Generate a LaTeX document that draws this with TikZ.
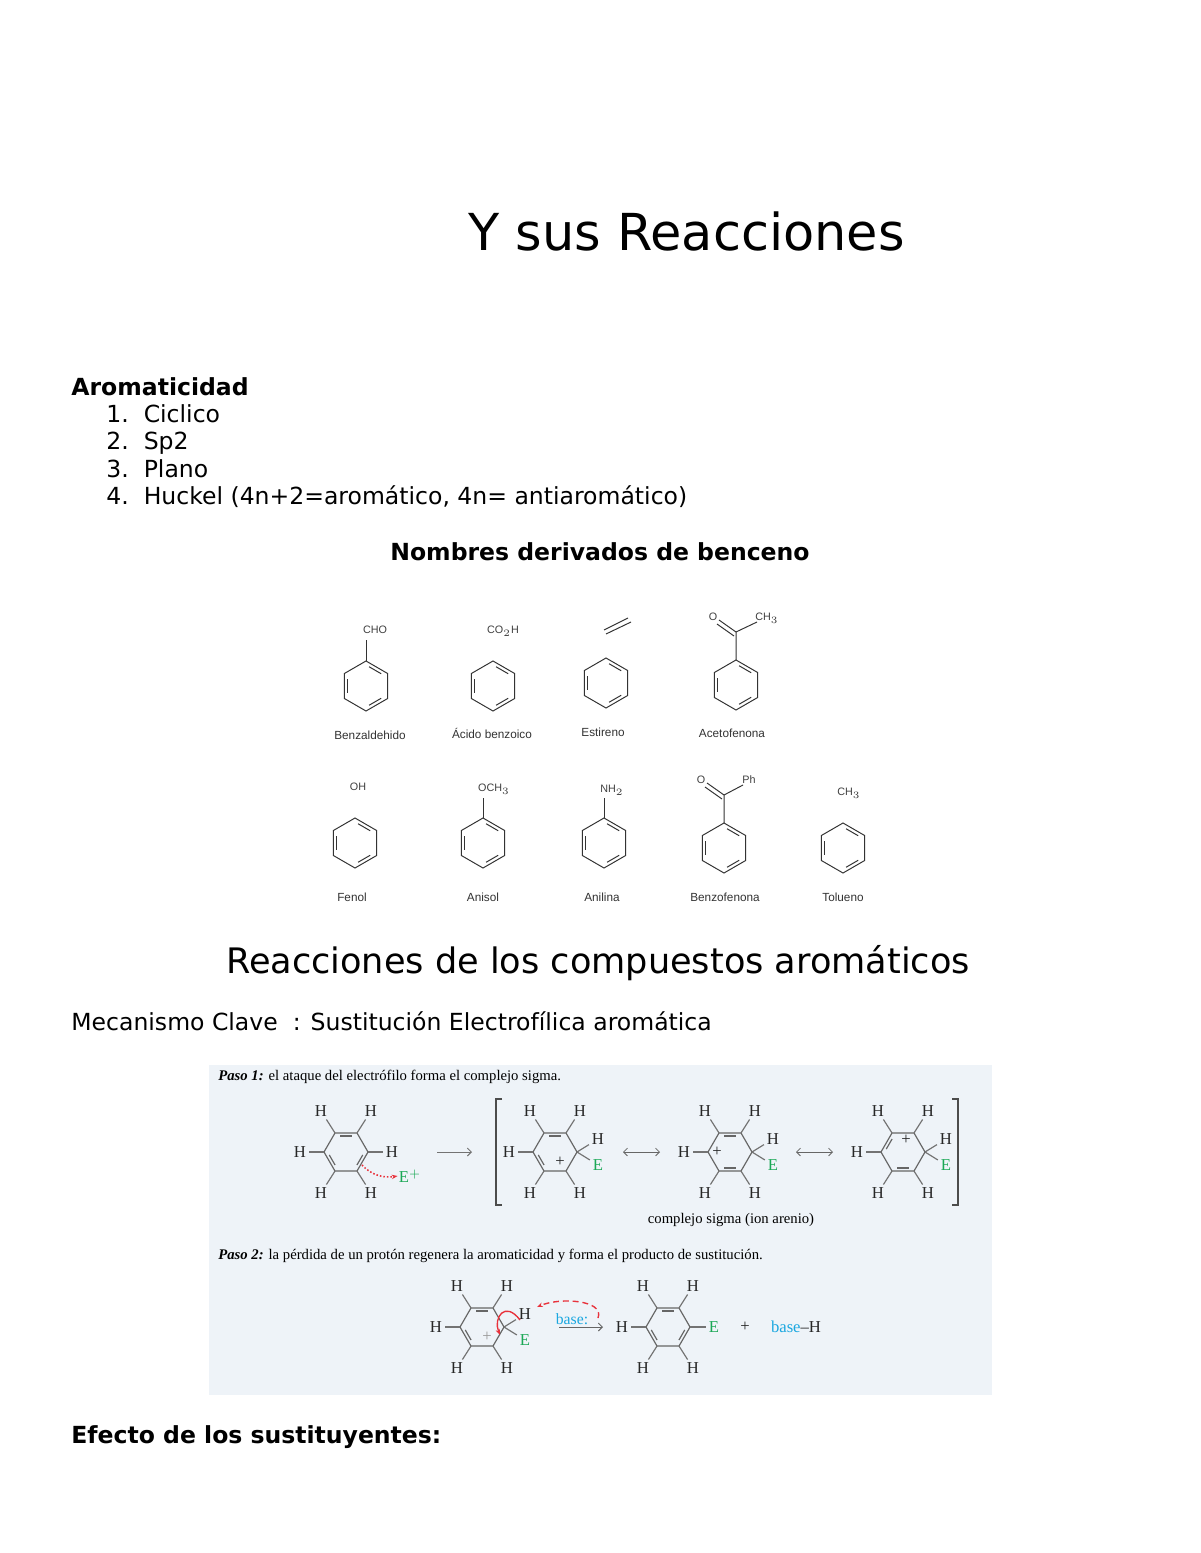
\documentclass[tikz,border=0pt]{standalone}
\usepackage{fontspec}
\setmainfont{DejaVu Sans}
\newfontfamily\tms{Liberation Serif}
\newfontfamily\ars{Liberation Sans}
\usetikzlibrary{arrows.meta}
\definecolor{bgm}{HTML}{EEF3F8}
\definecolor{egreen}{HTML}{1BA856}
\definecolor{bcyan}{HTML}{1AA7E0}
\definecolor{rred}{HTML}{E8323C}
\tikzset{
 ringline/.style={line width=0.5pt,black!80},
 mline/.style={line width=0.6pt,black!60},
 bond/.style={line width=0.6pt,black!55,shorten >=1pt},
 hl/.style={font=\tms\fontsize{8.5}{9}\selectfont,inner sep=0.5pt,text=black!85},
 el/.style={font=\tms\fontsize{8.5}{9}\selectfont,inner sep=0.5pt,text=egreen},
 lab/.style={font=\ars\fontsize{6}{7}\selectfont,text=black!80},
 sub/.style={font=\ars\fontsize{5.5}{6}\selectfont,text=black!75,inner sep=1pt},
 body/.style={font=\fontsize{12}{14}\selectfont,anchor=base west,inner sep=0},
 resarrow/.style={{Straight Barb[length=2pt]}-{Straight Barb[length=2pt]},line width=0.4pt,black!60},
}
\newcommand\hexv[3]{%
 \begin{scope}[shift={(#1,#2)}]
 \draw[ringline] (90:25)--(150:25)--(210:25)--(270:25)--(330:25)--(30:25)--cycle;
 \foreach \a in {#3} \draw[ringline] (\a+9:19.5)--(\a+51:19.5);
 \end{scope}}
\newcommand\mring[4]{%
 \begin{scope}[shift={(#1,#2)}]
 \draw[mline] (0:22)--(60:22)--(120:22)--(180:22)--(240:22)--(300:22)--cycle;
 \foreach \a in {#3} \draw[mline] (\a+10:17)--(\a+50:17);
 \node[hl] (#4a) at (-25,-41) {H}; \node[hl] (#4b) at (25,-41) {H};
 \node[hl] (#4c) at (-46,0) {H};
 \node[hl] (#4d) at (-25,41) {H}; \node[hl] (#4e) at (25,41) {H};
 \draw[bond] (240:22)--(#4a); \draw[bond] (300:22)--(#4b);
 \draw[bond] (180:22)--(#4c); \draw[bond] (120:22)--(#4d);
 \draw[bond] (60:22)--(#4e);
 \end{scope}}
\newcommand\sigright[3]{%
 \begin{scope}[shift={(#1,#2)}]
 \node[hl] (#3h) at (43,-13) {H}; \node[el] (#3x) at (43,13) {E};
 \draw[bond] (0:22)--(#3h); \draw[bond] (0:22)--(#3x);
 \end{scope}}
\begin{document}
\begin{tikzpicture}[x=0.51pt,y=-0.51pt]
\useasboundingbox (0,0) rectangle (1200,1553);
\fill[white] (0,0) rectangle (1200,1553);
% titles
\node[font=\fontsize{26}{30}\selectfont,anchor=base west,inner sep=0] (title) at (468,250) {Y sus Reacciones};
\node[body,font=\bfseries\fontsize{12}{14}\selectfont] (arom) at (71,395) {Aromaticidad};
\node[body] (i1) at (106,422) {1.\ \ Ciclico};
\node[body] (i2) at (106,449) {2.\ \ Sp2};
\node[body] (i3) at (106,477) {3.\ \ Plano};
\node[body] (i4) at (106,504) {4.\ \ Huckel (4n+2=aromático, 4n= antiaromático)};
\node[font=\bfseries\fontsize{12}{14}\selectfont,inner sep=0] (nd) at (600,552) {Nombres derivados de benceno};
% derivatives row 1
\hexv{366}{686}{30,150,270}
\draw[ringline] (366,661)--(366,640); \node[sub] (s1) at (375,630) {CHO};
\node[lab] (l1) at (370,735) {Benzaldehido};
\hexv{493}{686}{30,150,270}
\node[sub] (s2) at (503,631) {CO$_2$H};
\node[lab] (l2) at (492,733) {Ácido benzoico};
\hexv{606}{683}{30,150,270}
\draw[ringline] (604,630)--(628,618); \draw[ringline] (606,634)--(631,622);
\node[lab] (l3) at (603,732) {Estireno};
\hexv{736}{685}{30,150,270}
\draw[ringline] (736,660)--(736,632)--(757,622); \draw[ringline] (736,632)--(719,620); \draw[ringline] (734,636)--(717,624);
\node[sub] (s4a) at (713,617) {O}; \node[sub] (s4b) at (767,618) {CH$_3$};
\node[lab] (l4) at (732,733) {Acetofenona};
% row 2
\hexv{355}{843}{30,150,270}
\node[sub] (s5) at (358,787) {OH};
\node[lab] (l5) at (352,897) {Fenol};
\hexv{483}{843}{30,150,270}
\draw[ringline] (483,818)--(483,798); \node[sub] (s6) at (494,789) {OCH$_3$};
\node[lab] (l6) at (483,897) {Anisol};
\hexv{604}{843}{30,150,270}
\draw[ringline] (604,818)--(604,798); \node[sub] (s7) at (612,790) {NH$_2$};
\node[lab] (l7) at (602,897) {Anilina};
\hexv{724}{848}{30,150,270}
\draw[ringline] (724,823)--(724,795)--(743,785); \draw[ringline] (724,795)--(707,783); \draw[ringline] (722,799)--(705,787);
\node[sub] (s8a) at (701,780) {O}; \node[sub] (s8b) at (749,780) {Ph};
\node[lab] (l8) at (725,897) {Benzofenona};
\hexv{843}{848}{30,150,270}
\node[sub] (s9) at (849,793) {CH$_3$};
\node[lab] (l9) at (843,897) {Tolueno};
% section heading
\node[font=\fontsize{17.9}{20}\selectfont,inner sep=0] (reac) at (598,963) {Reacciones de los compuestos aromáticos};
\node[body] (mec) at (71,1030) {Mecanismo Clave\ \ : Sustitución Electrofílica aromática};
% mechanism panel
\fill[bgm] (209,1065) rectangle (992,1395);
\node[font=\tms\fontsize{7.5}{8}\selectfont,anchor=west,inner sep=0] (p1) at (218,1077) {\textbf{\textit{Paso 1:}} el ataque del electrófilo forma el complejo sigma.};
\mring{346}{1152}{240,120,0}{r1}
\node[hl] (r1f) at (392,1152) {H}; \draw[bond] (346+22,1152)--(r1f);
\node[el] (ep) at (410,1176) {E$^+$};
\draw[rred,densely dotted,line width=0.8pt,-{Stealth[length=3pt]}] (362,1165) .. controls (372,1176) and (385,1178) .. (ep.west);
\draw[black!55,line width=0.5pt,-{Straight Barb[length=2pt]}] (437,1152) -- (472,1152);
\draw[black!70,line width=0.8pt] (502,1099)--(496,1099)--(496,1205)--(502,1205);
\draw[black!70,line width=0.8pt] (952,1099)--(958,1099)--(958,1205)--(952,1205);
\mring{555}{1152}{240,120}{r2}\sigright{555}{1152}{r2s}
\node[hl] (pl2) at (560,1162) {+};
\draw[resarrow] (623,1152)--(660,1152);
\mring{730}{1152}{240,60}{r3}\sigright{730}{1152}{r3s}
\node[hl] (pl3) at (717,1152) {+};
\draw[resarrow] (796,1152)--(833,1152);
\mring{903}{1152}{180,60}{r4}\sigright{903}{1152}{r4s}
\node[hl] (pl4) at (906,1140) {+};
\node[font=\tms\fontsize{7.5}{8}\selectfont,inner sep=0] (cs) at (731,1220) {complejo sigma (ion arenio)};
\node[font=\tms\fontsize{7.5}{8}\selectfont,anchor=west,inner sep=0] (p2) at (218,1256) {\textbf{\textit{Paso 2:}} la pérdida de un protón regenera la aromaticidad y forma el producto de sustitución.};
\mring{482}{1327}{240,120}{r5}\sigright{482}{1327}{r5s}
\node[hl,text=black!40] (pl5) at (487,1337) {+};
\draw[rred,line width=0.7pt,-{Stealth[length=3pt]}] (520,1320) .. controls (505,1300) and (493,1318) .. (500,1335);
\node[font=\tms\fontsize{8}{9}\selectfont,text=bcyan,inner sep=0] (base) at (572,1319) {base:};
\draw[rred,densely dashed,line width=0.7pt,-{Stealth[length=3pt]}] (598,1318) .. controls (605,1300) and (560,1297) .. (537,1307);
\draw[black!60,line width=0.5pt,-{Straight Barb[length=2pt]}] (559,1327) -- (603,1327);
\mring{668}{1327}{240,120,0}{r6}
\node[el] (r6e) at (714,1327) {E}; \draw[bond] (690,1327)--(r6e);
\node[hl] (plus) at (745,1327) {+};
\node[font=\tms\fontsize{8.5}{9}\selectfont,inner sep=0] (bh) at (796,1327) {\textcolor{bcyan}{base}\textcolor{black!85}{–H}};
\node[body,font=\bfseries\fontsize{12}{14}\selectfont] (ef) at (71,1443) {Efecto de los sustituyentes:};
\end{tikzpicture}
\end{document}
